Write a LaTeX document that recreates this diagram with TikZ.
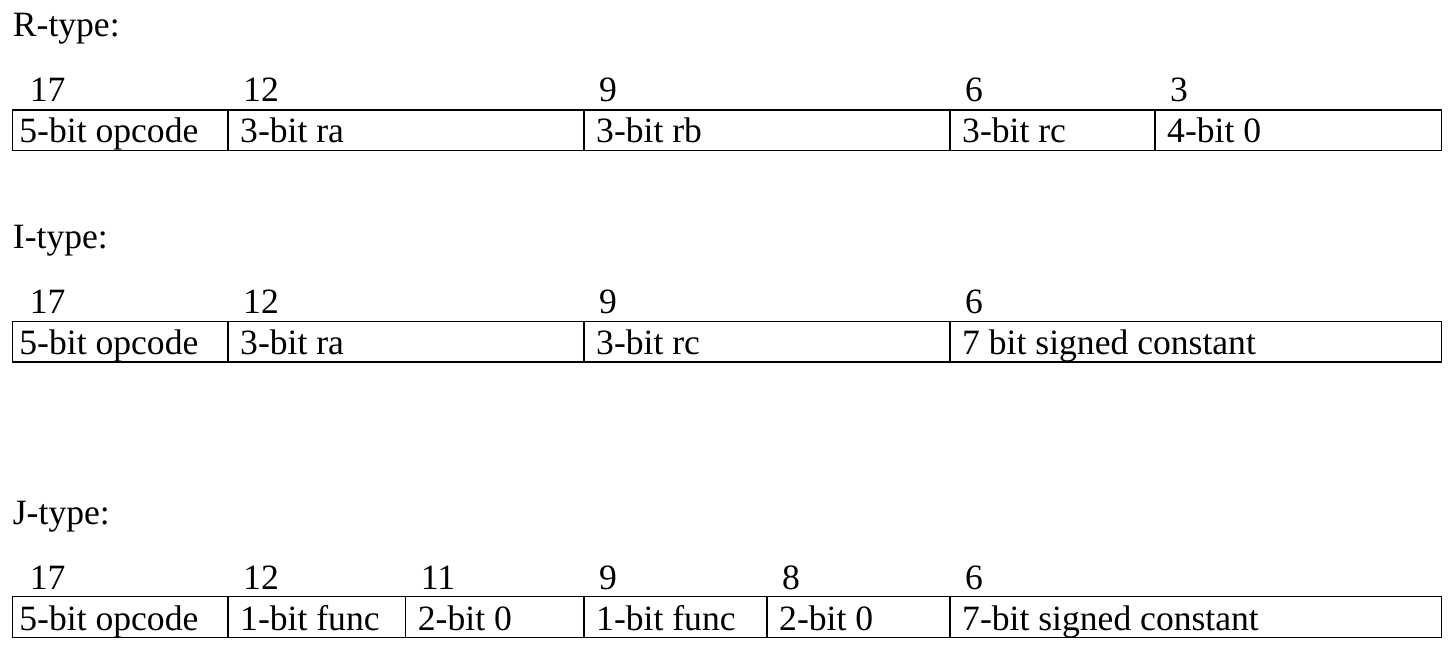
\documentclass[tikz,border=0pt]{standalone}
\usepackage{fontspec}
\setmainfont{Liberation Serif}
\newcommand{\fsz}{\fontsize{35.6}{40}\selectfont}
\begin{document}
\begin{tikzpicture}[x=1pt,y=-1pt,
  lbl/.style={anchor=base west, inner sep=0pt, font=\fsz},
  cellline/.style={draw=black, line width=1.4pt}]
\useasboundingbox (0,0) rectangle (1456,652);
% titles
\node[lbl] (rtitle) at (12.7,36.7) {R-type:};
\node[lbl] (ititle) at (12.7,249) {I-type:};
\node[lbl] (jtitle) at (12.7,524.3) {J-type:};
% R-type row
\foreach \a/\b/\n/\t/\dn/\dt [count=\i] in
  {12.7/228/17/5-bit opcode/17/6.5,
   228/584/12/3-bit ra/15/12,
   584/950/9/3-bit rb/15/12,
   950/1155/6/3-bit rc/15/12,
   1155/1441.5/3/4-bit 0/15/12}{
  \draw[cellline] (\a,110) rectangle (\b,150.7);
  \node[lbl] (rn\i) at (\a+\dn,101.7) {\n};
  \node[lbl] (rt\i) at (\a+\dt,143) {\t};
}
% I-type row
\foreach \a/\b/\n/\t/\dn/\dt [count=\i] in
  {12.7/228/17/5-bit opcode/17/6.5,
   228/584/12/3-bit ra/15/12,
   584/950/9/3-bit rc/15/12,
   950/1441.5/6/7 bit signed constant/15/12}{
  \draw[cellline] (\a,321.7) rectangle (\b,362);
  \node[lbl] (in\i) at (\a+\dn,313.3) {\n};
  \node[lbl] (it\i) at (\a+\dt,354) {\t};
}
% J-type row
\foreach \a/\b/\n/\t/\dn/\dt [count=\i] in
  {12.7/228/17/5-bit opcode/17/6.5,
   228/405.7/12/1-bit func/15/12,
   405.7/584/11/2-bit 0/15/12,
   584/767/9/1-bit func/15/12,
   767/950/8/2-bit 0/15/12,
   950/1441.5/6/7-bit signed constant/15/12}{
  \draw[cellline] (\a,596.7) rectangle (\b,637.7);
  \node[lbl] (jn\i) at (\a+\dn,589) {\n};
  \node[lbl] (jt\i) at (\a+\dt,630) {\t};
}
\end{tikzpicture}
\end{document}
